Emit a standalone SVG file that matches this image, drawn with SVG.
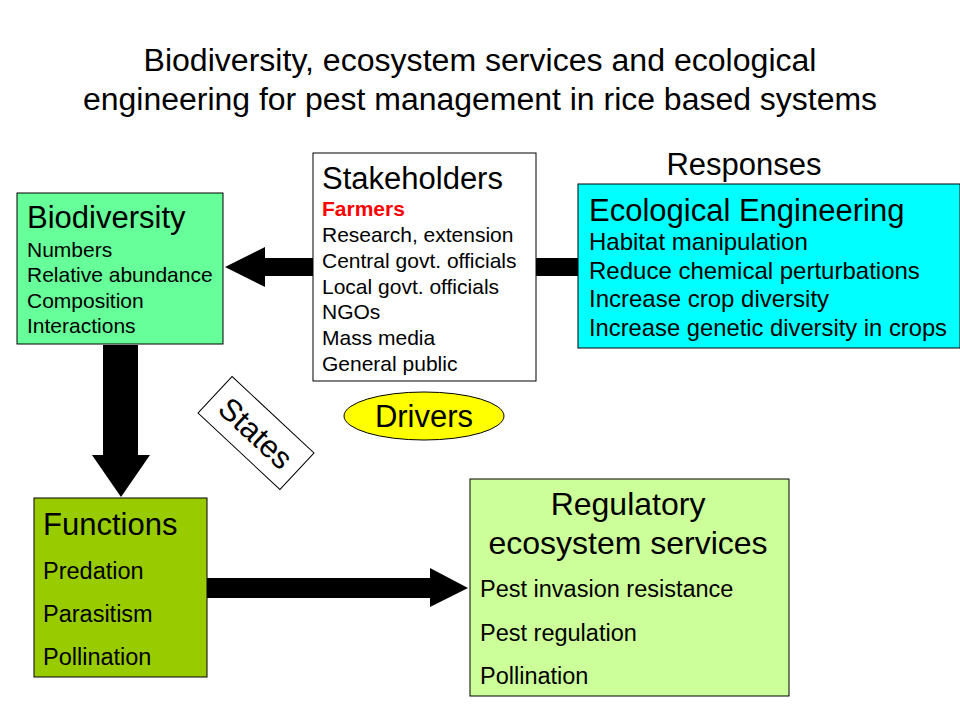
<svg xmlns="http://www.w3.org/2000/svg" width="960" height="720" viewBox="0 0 960 720">
<style>
text{font-family:"Liberation Sans",Arial,sans-serif;fill:#000}
.box{stroke:#000;stroke-width:1}
.s{font-size:21px}
.h{font-size:31px}
.e{font-size:24px}
.f{font-size:23.5px}
</style>
<rect width="960" height="720" fill="#fff"/>
<text x="480" y="71" text-anchor="middle" font-size="31" textLength="673" lengthAdjust="spacingAndGlyphs">Biodiversity, ecosystem services and ecological</text>
<text x="480" y="110" text-anchor="middle" font-size="31" textLength="794" lengthAdjust="spacingAndGlyphs">engineering for pest management in rice based systems</text>
<text x="744" y="175" text-anchor="middle" font-size="31">Responses</text>
<g id="connectors" fill="#000">
<polygon points="313,258 265,258 265,247 225,267 265,287 265,276 313,276"/>
<rect x="536" y="258" width="42" height="18"/>
<polygon points="103,345 138,345 138,455 150,455 121,497 92,455 103,455"/>
<polygon points="207,578 430,578 430,568 468,588 430,607 430,598 207,598"/>
</g>
<g id="biodiversity">
<rect class="box" x="17" y="193" width="206" height="151" fill="#66FF99"/>
<text x="27" y="228" class="h">Biodiversity</text>
<text x="27" y="257" class="s">Numbers</text>
<text x="27" y="282" class="s">Relative abundance</text>
<text x="27" y="308" class="s">Composition</text>
<text x="27" y="333" class="s">Interactions</text>
</g>
<g id="stakeholders">
<rect class="box" x="313" y="153" width="223" height="228" fill="#fff"/>
<text x="322" y="189" class="h">Stakeholders</text>
<text x="322" y="216" class="s" font-size="20" font-weight="bold" style="fill:#FF0000">Farmers</text>
<text x="322" y="242" class="s">Research, extension</text>
<text x="322" y="268" class="s">Central govt. officials</text>
<text x="322" y="294" class="s">Local govt. officials</text>
<text x="322" y="319" class="s">NGOs</text>
<text x="322" y="345" class="s">Mass media</text>
<text x="322" y="371" class="s">General public</text>
</g>
<g id="eco">
<rect class="box" x="578" y="184" width="382" height="164" fill="#00FFFF"/>
<text x="589" y="221" class="h">Ecological Engineering</text>
<text x="589" y="250" class="e">Habitat manipulation</text>
<text x="589" y="279" class="e">Reduce chemical perturbations</text>
<text x="589" y="307" class="e">Increase crop diversity</text>
<text x="589" y="336" class="e" textLength="358" lengthAdjust="spacingAndGlyphs">Increase genetic diversity in crops</text>
</g>
<g id="drivers">
<ellipse cx="424" cy="416" rx="80" ry="24" fill="#FFFF00" stroke="#000"/>
<text x="424" y="427" text-anchor="middle" font-size="31">Drivers</text>
</g>
<g id="states" transform="translate(256,433) rotate(43)">
<rect class="box" x="-56" y="-25" width="112" height="50" fill="#fff"/>
<text x="0" y="11" text-anchor="middle" font-size="31">States</text>
</g>
<g id="functions">
<rect class="box" x="34" y="498" width="173" height="179" fill="#99CC00"/>
<text x="43" y="535" class="h">Functions</text>
<text x="43" y="579" class="f">Predation</text>
<text x="43" y="622" class="f">Parasitism</text>
<text x="43" y="665" class="f">Pollination</text>
</g>
<g id="regulatory">
<rect class="box" x="470" y="479" width="319" height="217" fill="#CCFF99"/>
<text x="628" y="515" text-anchor="middle" font-size="32">Regulatory</text>
<text x="628" y="554" text-anchor="middle" font-size="32">ecosystem services</text>
<text x="480" y="597" class="f" font-size="24">Pest invasion resistance</text>
<text x="480" y="641" class="f" font-size="24">Pest regulation</text>
<text x="480" y="684" class="f" font-size="24">Pollination</text>
</g>
</svg>
